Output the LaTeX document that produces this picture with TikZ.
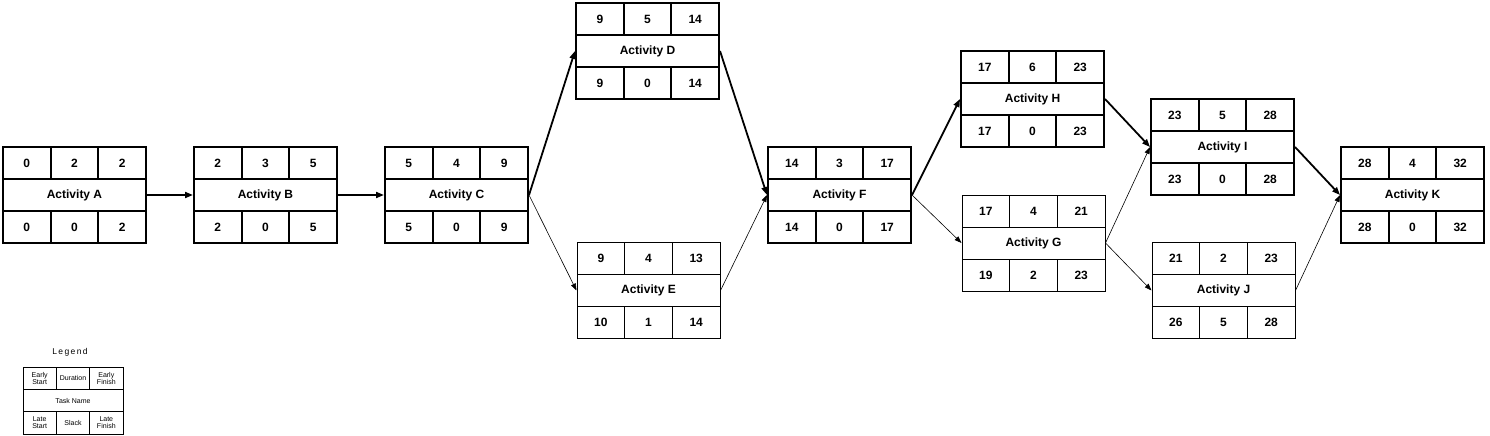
\documentclass[tikz,border=0pt]{standalone}
\usepackage{fontspec}
\setmainfont{Liberation Sans}
\usetikzlibrary{arrows.meta, positioning, calc}

% cell grid and numbers of one activity box
\newcommand{\cells}[8][crit]{%
	\draw[#1] ($(#2.center)+(-71.5,-16)$) -- ($(#2.center)+(71.5,-16)$);
	\draw[#1] ($(#2.center)+(-71.5,16)$) -- ($(#2.center)+(71.5,16)$);
	\foreach \dx in {-23.83,23.83}{
		\draw[#1] ($(#2.center)+(\dx,-48)$) -- ($(#2.center)+(\dx,-16)$);
		\draw[#1] ($(#2.center)+(\dx,16)$) -- ($(#2.center)+(\dx,48)$);
	}
	\node[num] (#2-es) at ($(#2.center)+(-47.67,-32)$) {#3};
	\node[num] (#2-du) at ($(#2.center)+(0,-32)$) {#4};
	\node[num] (#2-ef) at ($(#2.center)+(47.67,-32)$) {#5};
	\node[num] (#2-ls) at ($(#2.center)+(-47.67,32)$) {#6};
	\node[num] (#2-sl) at ($(#2.center)+(0,32)$) {#7};
	\node[num] (#2-lf) at ($(#2.center)+(47.67,32)$) {#8};
}

\begin{document}
\begin{tikzpicture}[
	x=1pt, y=-1pt,
	crit/.style={draw, line width=2pt},
	slack/.style={draw, line width=1pt},
	box/.style={rectangle, minimum width=143pt, minimum height=96pt, inner sep=0pt, font=\fontsize{12}{14}\selectfont\bfseries},
	num/.style={inner sep=0pt, font=\fontsize{12}{14}\selectfont\bfseries},
	tiny/.style={inner sep=0pt, align=center, font=\fontsize{7}{7}\selectfont},
	critarrow/.style={line width=1.8pt, -{Triangle[length=8pt,width=6pt]}},
	thinarrow/.style={line width=0.6pt, -{Triangle[length=7pt,width=5pt]}}
	]
	\useasboundingbox (0,0) rectangle (1490,436);

	% Activities
	\node[box, crit] (a) at (74.5,195) {Activity A};
	\node[box, crit] (b) at (265.5,195) {Activity B};
	\node[box, crit] (c) at (456.5,195) {Activity C};
	\node[box, crit] (d) at (647.5,51) {Activity D};
	\node[box, slack] (e) at (648.5,290.5) {Activity E};
	\node[box, crit] (f) at (839.5,195) {Activity F};
	\node[box, crit] (h) at (1032.5,99) {Activity H};
	\node[box, slack] (g) at (1033.5,243) {Activity G};
	\node[box, crit] (i) at (1222.5,147) {Activity I};
	\node[box, slack] (j) at (1223.5,290.5) {Activity J};
	\node[box, crit] (k) at (1412.5,195) {Activity K};

	\cells{a}{0}{2}{2}{0}{0}{2}
	\cells{b}{2}{3}{5}{2}{0}{5}
	\cells{c}{5}{4}{9}{5}{0}{9}
	\cells{d}{9}{5}{14}{9}{0}{14}
	\cells[slack]{e}{9}{4}{13}{10}{1}{14}
	\cells{f}{14}{3}{17}{14}{0}{17}
	\cells{h}{17}{6}{23}{17}{0}{23}
	\cells[slack]{g}{17}{4}{21}{19}{2}{23}
	\cells{i}{23}{5}{28}{23}{0}{28}
	\cells[slack]{j}{21}{2}{23}{26}{5}{28}
	\cells{k}{28}{4}{32}{28}{0}{32}

	% Arrows
	\draw[critarrow] (a.east) -- (b.west);
	\draw[critarrow] (b.east) -- (c.west);
	\draw[critarrow] (c.east) -- (d.west);
	\draw[thinarrow] (c.east) -- (e.west);
	\draw[critarrow] (d.east) -- (f.west);
	\draw[thinarrow] (e.east) -- (f.west);
	\draw[critarrow] (f.east) -- (h.west);
	\draw[thinarrow] (f.east) -- (g.west);
	\draw[critarrow] (h.east) -- (i.west);
	\draw[thinarrow] (g.east) -- (i.west);
	\draw[thinarrow] (g.east) -- (j.west);
	\draw[critarrow] (i.east) -- (k.west);
	\draw[thinarrow] (j.east) -- (k.west);

	% Legend
	\node[font=\fontsize{8.5}{9}\selectfont, inner sep=0pt] (legtitle) at (70,352) {L\,e\,g\,e\,n\,d};
	\node[draw, line width=0.8pt, rectangle, minimum width=100pt, minimum height=67pt, inner sep=0pt, font=\fontsize{7}{7}\selectfont] (leg) at (73,400.5) {Task Name};
	\draw[line width=0.8pt] ($(leg.center)+(-50,-11.17)$) -- ($(leg.center)+(50,-11.17)$);
	\draw[line width=0.8pt] ($(leg.center)+(-50,11.17)$) -- ($(leg.center)+(50,11.17)$);
	\foreach \dx in {-16.67,16.67}{
		\draw[line width=0.8pt] ($(leg.center)+(\dx,-33.5)$) -- ($(leg.center)+(\dx,-11.17)$);
		\draw[line width=0.8pt] ($(leg.center)+(\dx,11.17)$) -- ($(leg.center)+(\dx,33.5)$);
	}
	\node[tiny] (leg-es) at ($(leg.center)+(-33.33,-22.33)$) {Early\\Start};
	\node[tiny] (leg-du) at ($(leg.center)+(0,-22.33)$) {Duration};
	\node[tiny] (leg-ef) at ($(leg.center)+(33.33,-22.33)$) {Early\\Finish};
	\node[tiny] (leg-ls) at ($(leg.center)+(-33.33,22.33)$) {Late\\Start};
	\node[tiny] (leg-sl) at ($(leg.center)+(0,22.33)$) {Slack};
	\node[tiny] (leg-lf) at ($(leg.center)+(33.33,22.33)$) {Late\\Finish};
\end{tikzpicture}
\end{document}
